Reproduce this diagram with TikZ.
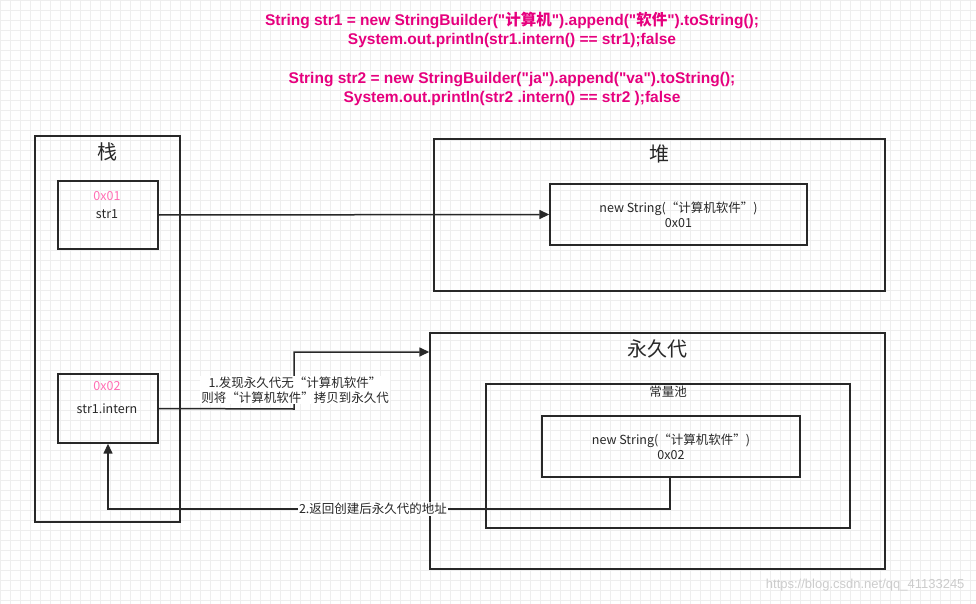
\documentclass[tikz,border=0pt]{standalone}
\usepackage{fontspec}
\setmainfont{Noto Sans CJK SC}
\newfontfamily\codefont{Liberation Sans}
\usetikzlibrary{arrows.meta}
\definecolor{mag}{RGB}{230,0,126}
\definecolor{pk}{RGB}{255,110,180}
\definecolor{gridc}{RGB}{238,238,238}
\definecolor{ln}{RGB}{40,40,40}
\tikzset{box/.style={draw=ln,line width=1.4pt},
 arr/.style={draw=ln,line width=1.5pt,-{Triangle[length=10pt,width=9pt]}},
 lbl/.style={fill=white,inner sep=1pt,font=\fontsize{12.5}{15}\selectfont,text=ln,align=center},
 txt/.style={font=\fontsize{12.5}{15}\selectfont,text=ln,align=center},
 ttl/.style={font=\fontsize{20}{24}\selectfont,text=ln}}
\begin{document}
\begin{tikzpicture}[x=1pt,y=-1pt]
\useasboundingbox (0,0) rectangle (976,604);
\fill[white] (0,0) rectangle (976,604);
\foreach \i in {0,10,...,970} \draw[gridc,line width=0.8pt] (\i,0) -- (\i,604);
\foreach \j in {0,10,...,600} \draw[gridc,line width=0.8pt] (0,\j) -- (976,\j);
\node[font=\codefont\bfseries\fontsize{15.5}{19}\selectfont,text=mag,align=center] (code) at (512,59)
{String str1 = new StringBuilder("{\rmfamily 计算机}").append("{\rmfamily 软件}").toString();\\
System.out.println(str1.intern() == str1);false\\[20pt]
String str2 = new StringBuilder("ja").append("va").toString();\\
System.out.println(str2 .intern() == str2 );false};
% stack
\draw[box] (35,136) rectangle (180,522);
\node[ttl] (st) at (107,152) {栈};
\node[box,minimum width=100pt,minimum height=68pt] (b1) at (108,215) {};
\node[text=pk,font=\fontsize{12.5}{15}\selectfont] at (107,196) {0x01};
\node[txt] at (107,214) {str1};
\node[box,minimum width=100pt,minimum height=69pt] (b2) at (108,408.5) {};
\node[text=pk,font=\fontsize{12.5}{15}\selectfont] at (107,386) {0x02};
\node[txt] at (107,409) {str1.intern};
% heap
\draw[box] (434,139) rectangle (885,291);
\node[ttl] at (659,154) {堆};
\node[box,minimum width=257pt,minimum height=61pt] (h1) at (678.5,214.5) {};
\node[txt] at (678.5,215) {new String(“计算机软件”)\\0x01};
% perm
\node[box,minimum width=455pt,minimum height=236pt] (perm) at (657.5,451) {};
\node[ttl] at (657,349) {永久代};
\draw[box] (486,384) rectangle (850,528);
\node[txt] at (668,392) {常量池};
\node[box,minimum width=258pt,minimum height=61pt] (p1) at (671,446.5) {};
\node[txt] at (671,447) {new String(“计算机软件”)\\0x02};
% arrows
\draw[arr] (b1.east) -- (h1.west);
\coordinate (a1) at (294,409);
\coordinate (a2) at (294,352);
\draw[arr] (b2.east) -- (a1) -- (a2) -- (perm.west|-a2);
\node[lbl] at (295,390) {1.发现永久代无“计算机软件”\\则将“计算机软件”拷贝到永久代};
\coordinate (c1) at (670,509);
\coordinate (c2) at (108,509);
\draw[arr] (p1.south-|c1) -- (c1) -- (c2) -- (b2.south);
\node[lbl] at (373,509) {2.返回创建后永久代的地址};
\node[text=gray!40,font=\codefont\fontsize{13}{15}\selectfont,anchor=east] at (968,585) {https://blog.csdn.net/qq\_41133245};
\end{tikzpicture}
\end{document}
